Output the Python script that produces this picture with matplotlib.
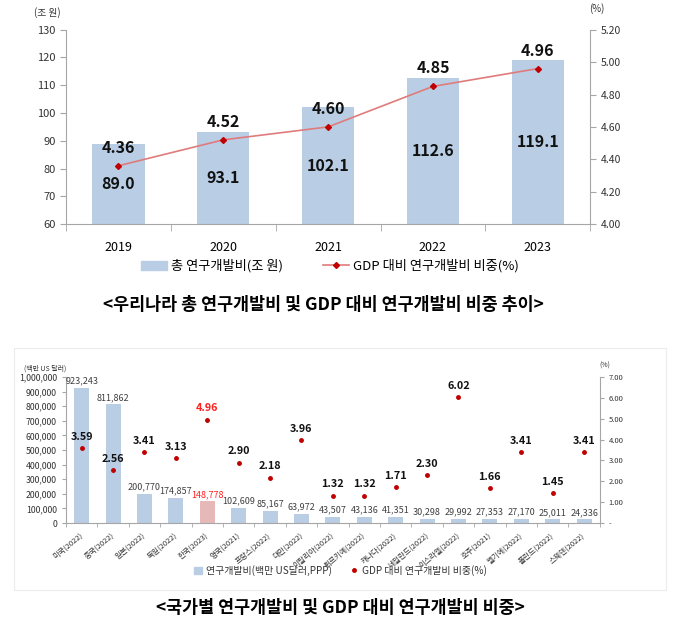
import numpy as np
import matplotlib.pyplot as plt
from matplotlib.patches import Rectangle
from matplotlib.lines import Line2D
from matplotlib.ticker import FuncFormatter, MultipleLocator, FixedLocator

plt.rcParams['font.family'] = ['Noto Sans CJK KR', 'DejaVu Sans']

# 우리나라 총 연구개발비 추이
years = ['2019', '2020', '2021', '2022', '2023']
rnd_total = [89.0, 93.1, 102.1, 112.6, 119.1]
gdp_ratio = [4.36, 4.52, 4.60, 4.85, 4.96]

# 국가별 연구개발비
countries = ['미국(2022)', '중국(2022)', '일본(2022)', '독일(2022)', '한국(2023)',
             '영국(2021)', '프랑스(2022)', '대만(2022)', '이탈리아(2022)', '튀르키예(2022)',
             '캐나다(2022)', '네덜란드(2022)', '이스라엘(2022)', '호주(2021)', '벨기에(2022)',
             '폴란드(2022)', '스웨덴(2022)']
rnd_country = [923243, 811862, 200770, 174857, 148778, 102609, 85167, 63972, 43507,
               43136, 41351, 30298, 29992, 27353, 27170, 25011, 24336]
ratio_country = [3.59, 2.56, 3.41, 3.13, 4.96, 2.90, 2.18, 3.96, 1.32, 1.32, 1.71,
                 2.30, 6.02, 1.66, 3.41, 1.45, 3.41]

bar_blue = '#b9cde5'
bar_red = '#e6b9b8'
spine_c = '#a6a6a6'

fig = plt.figure(figsize=(6.8, 6.19), dpi=100)

# ---------- 위쪽 그래프 ----------
ax1 = fig.add_axes([0.097, 0.638, 0.771, 0.314])
x = np.arange(len(years))
ax1.bar(x, np.array(rnd_total) - 60, bottom=60, width=0.5, color=bar_blue)
ax1.set_ylim(60, 130)
ax1.set_xlim(-0.5, len(years) - 0.5)
ax1.yaxis.set_major_locator(MultipleLocator(10))
ax1.set_xticks(x)
ax1.set_xticklabels(years, fontsize=9)
ax1.xaxis.set_minor_locator(FixedLocator(np.arange(-0.5, len(years), 1)))
ax1.tick_params(axis='x', which='major', length=0, pad=12)
ax1.tick_params(axis='x', which='minor', length=5, color=spine_c)
ax1.tick_params(axis='y', labelsize=8, length=4, color=spine_c, colors='#333333')
for s in ['top', 'right']:
    ax1.spines[s].set_visible(False)
for s in ['left', 'bottom']:
    ax1.spines[s].set_color(spine_c)
for xi, v in zip(x, rnd_total):
    ax1.text(xi, (60 + v) / 2, f'{v:.1f}', ha='center', va='center',
             fontsize=11.5, fontweight='bold', color='#111111')

ax1r = ax1.twinx()
ax1r.plot(x, gdp_ratio, color='#e07b7b', lw=1.2, marker='D', ms=3,
          mfc='#c00000', mec='#c00000')
ax1r.set_ylim(4.0, 5.2)
ax1r.yaxis.set_major_locator(MultipleLocator(0.2))
ax1r.yaxis.set_major_formatter(FuncFormatter(lambda v, p: f'{v:.2f}'))
ax1r.tick_params(axis='y', labelsize=7.5, length=4, color=spine_c, colors='#333333')
for s in ['top', 'left', 'bottom']:
    ax1r.spines[s].set_visible(False)
ax1r.spines['right'].set_color(spine_c)
for xi, v in zip(x, gdp_ratio):
    ax1r.annotate(f'{v:.2f}', (xi, v), xytext=(0, 13), textcoords='offset points',
                  ha='center', va='center', fontsize=11.5, fontweight='bold', color='#111111')

fig.text(0.069, 0.980, '(조 원)', fontsize=7, ha='center', va='center', color='#333333')
fig.text(0.878, 0.987, '(%)', fontsize=7, ha='center', va='center', color='#333333')

h1 = [Rectangle((0, 0), 1, 1, color=bar_blue),
      Line2D([], [], color='#e07b7b', lw=1.2, marker='D', ms=3, mfc='#c00000', mec='#c00000')]
fig.legend(h1, ['총 연구개발비(조 원)', 'GDP 대비 연구개발비 비중(%)'],
           loc='center', bbox_to_anchor=(0.485, 0.570), ncol=2, frameon=False,
           fontsize=9.5, handlelength=2.0, columnspacing=3.0, handletextpad=0.3)

fig.text(0.475, 0.507, '<우리나라 총 연구개발비 및 GDP 대비 연구개발비 비중 추이>',
         fontsize=12.5, fontweight='bold', ha='center', va='center')

# ---------- 아래쪽 그래프 ----------
fig.patches.append(Rectangle((0.02, 0.047), 0.96, 0.39, transform=fig.transFigure,
                             fill=False, edgecolor='#ececec', lw=0.8))
ax2 = fig.add_axes([0.097, 0.155, 0.785, 0.236])
xc = np.arange(len(countries))
colors = [bar_red if c.startswith('한국') else bar_blue for c in countries]
ax2.bar(xc, rnd_country, width=0.48, color=colors)
ax2.set_ylim(0, 1000000)
ax2.set_xlim(-0.5, len(countries) - 0.5)
ax2.yaxis.set_major_locator(MultipleLocator(100000))
ax2.yaxis.set_major_formatter(FuncFormatter(lambda v, p: f'{int(v):,}'))
ax2.tick_params(axis='y', labelsize=6.3, length=3, color=spine_c, colors='#333333')
ax2.set_xticks(xc)
ax2.set_xticklabels(countries, fontsize=5.5, rotation=40, ha='right', va='center',
                    rotation_mode='anchor', color='#333333')
ax2.xaxis.set_minor_locator(FixedLocator(np.arange(-0.5, len(countries), 1)))
ax2.tick_params(axis='x', which='major', length=0, pad=8)
ax2.tick_params(axis='x', which='minor', length=3, color=spine_c)
for s in ['top', 'right']:
    ax2.spines[s].set_visible(False)
for s in ['left', 'bottom']:
    ax2.spines[s].set_color(spine_c)
for xi, v, c in zip(xc, rnd_country, countries):
    col = '#ff2020' if c.startswith('한국') else '#404040'
    ax2.annotate(f'{v:,}', (xi, v), xytext=(0, 5), textcoords='offset points',
                 ha='center', va='center', fontsize=6.5, color=col)

ax2r = ax2.twinx()
ax2r.plot(xc, ratio_country, ls='none', marker='o', ms=2.5, color='#c00000')
ax2r.set_ylim(0, 7)
ax2r.yaxis.set_major_locator(MultipleLocator(1))
ax2r.yaxis.set_major_formatter(FuncFormatter(lambda v, p: '-' if v == 0 else f'{v:.2f}'))
ax2r.tick_params(axis='y', labelsize=5.5, length=3, color=spine_c, colors='#333333')
for s in ['top', 'left', 'bottom']:
    ax2r.spines[s].set_visible(False)
ax2r.spines['right'].set_color(spine_c)
for xi, v, c in zip(xc, ratio_country, countries):
    col = '#ff2020' if c.startswith('한국') else '#111111'
    ax2r.annotate(f'{v:.2f}', (xi, v), xytext=(0, 8), textcoords='offset points',
                  ha='center', va='center', fontsize=7.8, fontweight='bold', color=col)

fig.text(0.066, 0.405, '(백만 US 달러)', fontsize=5, ha='center', va='center', color='#333333')
fig.text(0.890, 0.410, '(%)', fontsize=5, ha='center', va='center', color='#333333')

h2 = [Rectangle((0, 0), 1, 1, color=bar_blue),
      Line2D([], [], ls='none', marker='o', ms=2.5, color='#c00000')]
fig.legend(h2, ['연구개발비(백만 US달러,PPP)', 'GDP 대비 연구개발비 비중(%)'],
           loc='center', bbox_to_anchor=(0.50, 0.078), ncol=2, frameon=False,
           fontsize=7.2, handlelength=0.8, handleheight=0.8, columnspacing=1.8,
           handletextpad=0.4, labelcolor='#333333')

fig.text(0.50, 0.018, '<국가별 연구개발비 및 GDP 대비 연구개발비 비중>',
         fontsize=12.5, fontweight='bold', ha='center', va='center')

fig.savefig('out.png', dpi=100)
